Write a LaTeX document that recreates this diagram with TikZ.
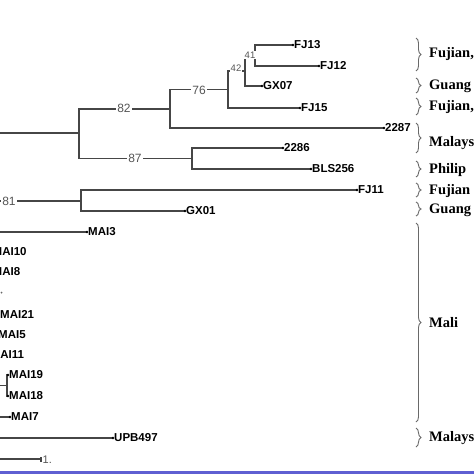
\documentclass[tikz,border=0pt]{standalone}
\usepackage{fontspec}
\setmainfont{Liberation Serif}
\setsansfont{Liberation Sans}
\usetikzlibrary{decorations.pathreplacing}
\definecolor{treeline}{RGB}{70,70,70}
\definecolor{bootgray}{RGB}{85,85,85}
\definecolor{bracegray}{RGB}{105,105,105}
\definecolor{barblue}{RGB}{95,95,210}
\tikzset{
  br/.style={draw=treeline,line width=1.2pt},
  leaf/.style={font=\sffamily\bfseries\fontsize{11.5}{11.5}\selectfont,anchor=west,inner sep=0.5pt,xshift=0.5pt},
  boot/.style={font=\sffamily\fontsize{12}{12}\selectfont,text=bootgray,fill=white,inner sep=1pt},
  bootsmall/.style={font=\sffamily\fontsize{9.5}{9.5}\selectfont,text=bootgray,fill=white,inner sep=0.5pt},
  region/.style={font=\rmfamily\bfseries\fontsize{14.5}{15}\selectfont,anchor=west,inner sep=0pt},
  grp/.style={draw=bracegray,line width=0.9pt,decorate,decoration={brace,amplitude=5pt}},
  tipdot/.style={fill=black}
}
\begin{document}
\begin{tikzpicture}[x=1pt,y=-1pt]
\useasboundingbox (0,0) rectangle (474,474);
\clip (0,0) rectangle (474,474);
\fill[white] (0,0) rectangle (474,474);
% coordinates
\coordinate (nB) at (255,55.5);
\coordinate (tFJ13) at (293,45);
\coordinate (tFJ12) at (319,66);
\coordinate (nA) at (245,71);
\coordinate (tGX07) at (262,86);
\coordinate (nC) at (228,89.5);
\coordinate (tFJ15) at (300,108);
\coordinate (nD) at (170,109);
\coordinate (t2287) at (384,128);
\coordinate (nF) at (192,158.5);
\coordinate (t2286) at (283,148);
\coordinate (tBLS) at (311,169);
\coordinate (nE) at (79,133);
\coordinate (rE) at (-20,133);
\coordinate (nG) at (81,201);
\coordinate (rG) at (-20,201);
\coordinate (tFJ11) at (357,190);
\coordinate (tGX01) at (185,211);
\coordinate (rMAI3) at (-20,232);
\coordinate (tMAI3) at (87,232);
\coordinate (nH) at (7,385.5);
\coordinate (rH) at (-20,385.5);
\coordinate (tMAI19) at (8,375);
\coordinate (tMAI18) at (8,396);
\coordinate (rMAI7) at (-20,417);
\coordinate (tMAI7) at (10,417);
\coordinate (rUPB) at (-20,438);
\coordinate (tUPB) at (113,438);
\coordinate (sA) at (0,459);
\coordinate (sB) at (41,459);
% branches
\draw[br] (nB) |- (tFJ13);
\draw[br] (nB) |- (tFJ12);
\draw[br] (nA) |- (nB);
\draw[br] (nA) |- (tGX07);
\draw[br] (nC) |- (nA);
\draw[br] (nC) |- (tFJ15);
\draw[br] (nD) |- (nC);
\draw[br] (nD) |- (t2287);
\draw[br] (nE) |- (nD);
\draw[br] (nE) |- (nF);
\draw[br] (nF) |- (t2286);
\draw[br] (nF) |- (tBLS);
\draw[br] (rE) -- (nE);
\draw[br] (rG) -- (nG);
\draw[br] (nG) |- (tFJ11);
\draw[br] (nG) |- (tGX01);
\draw[br] (rMAI3) -- (tMAI3);
\draw[br] (rH) -- (nH);
\draw[br] (nH) |- (tMAI19);
\draw[br] (nH) |- (tMAI18);
\draw[br] (rMAI7) -- (tMAI7);
\draw[br] (rUPB) -- (tUPB);
\draw[br] (sA) -- (sB);
\draw[br] ([yshift=-2.5pt]sB) -- ([yshift=2.5pt]sB);
% tip dots
\foreach \t in {tFJ13,tFJ12,tGX07,tFJ15,t2287,t2286,tBLS,tFJ11,tGX01,tMAI3,tMAI19,tMAI18,tMAI7,tUPB}
  \fill[tipdot] (\t) circle (1.4);
\fill[bracegray] (1.5,292.5) circle (1);
% bootstrap values
\node[boot] (b82) at (124,108.5) {82};
\node[boot] (b76) at (199,90) {76};
\node[boot] (b87) at (135,158.5) {87};
\node[boot] (b81) at (9,201) {81};
\node[bootsmall] (b42) at (236,68) {42};
\node[bootsmall] (b41) at (250,55) {41};
% leaf labels
\node[leaf] (lFJ13) at (tFJ13) {FJ13};
\node[leaf] (lFJ12) at (tFJ12) {FJ12};
\node[leaf] (lGX07) at (tGX07) {GX07};
\node[leaf] (lFJ15) at (tFJ15) {FJ15};
\node[leaf] (l2287) at (t2287) {2287};
\node[leaf] (l2286) at (t2286) {2286};
\node[leaf] (lBLS) at (tBLS) {BLS256};
\node[leaf] (lFJ11) at (tFJ11) {FJ11};
\node[leaf] (lGX01) at (tGX01) {GX01};
\node[leaf] (lMAI3) at (tMAI3) {MAI3};
\node[leaf] (lMAI10) at (-8.5,252) {MAI10};
\node[leaf] (lMAI8) at (-8.5,272) {MAI8};
\node[leaf] (lMAI21) at (-1,314) {MAI21};
\node[leaf] (lMAI5) at (-3,335) {MAI5};
\node[leaf] (lMAI11) at (-10.5,355) {MAI11};
\node[leaf] (lMAI19) at (tMAI19) {MAI19};
\node[leaf] (lMAI18) at (tMAI18) {MAI18};
\node[leaf] (lMAI7) at (tMAI7) {MAI7};
\node[leaf] (lUPB) at (tUPB) {UPB497};
\node[font=\sffamily\fontsize{11}{11}\selectfont,text=bootgray,anchor=west,inner sep=0.5pt] (lscale) at (42,459.5) {1.};
% braces and regions
\draw[grp] (416,38) -- (416,71);
\node[region] (g1) at (429,54) {Fujian,};
\draw[grp] (416,78) -- (416,93);
\node[region] (g2) at (429,86) {Guang};
\draw[grp] (416,98) -- (416,115);
\node[region] (g3) at (429,107) {Fujian,};
\draw[grp] (416,123) -- (416,153);
\node[region] (g4) at (429,143) {Malays};
\draw[grp] (416,161) -- (416,177);
\node[region] (g5) at (429,170) {Philip};
\draw[grp] (416,183) -- (416,197);
\node[region] (g6) at (429,191) {Fujian};
\draw[grp] (416,202) -- (416,216);
\node[region] (g7) at (429,210) {Guang};
\draw[grp] (416,223) -- (416,422);
\node[region] (g8) at (429,323) {Mali};
\draw[grp] (416,428) -- (416,447);
\node[region] (g9) at (429,438) {Malays};
% bottom bar
\fill[barblue] (0,471) rectangle (474,474);
\end{tikzpicture}
\end{document}
